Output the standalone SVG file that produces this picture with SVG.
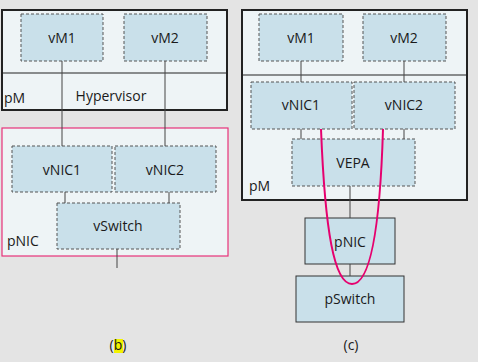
<svg xmlns="http://www.w3.org/2000/svg" width="478" height="362" viewBox="0 0 478 362">
<style>
text{font-family:"Open Sans","Liberation Sans",sans-serif;font-size:14px;fill:#1a1a1a}
.c{text-anchor:middle}
.host{fill:#eef4f6;stroke:#222;stroke-width:2}
.v{fill:#c9e0ea;stroke:#555;stroke-width:1;stroke-dasharray:3 2}
.p{fill:#c9e0ea;stroke:#333;stroke-width:1}
.ln{stroke:#444;stroke-width:1;fill:none}
</style>
<rect width="478" height="362" fill="#e4e4e4"/>
<g id="pM-b">
<rect class="host" x="2" y="10" width="225" height="100"/>
<line x1="2" y1="73" x2="227" y2="73" stroke="#222" stroke-width="1"/>
<text x="4" y="103">pM</text>
<text class="c" x="111" y="101">Hypervisor</text>
</g>
<g id="pNIC-b">
<rect x="2" y="128" width="226" height="128" fill="#eef4f6" stroke="#e8317a" stroke-width="1.2"/>
<text x="7" y="246">pNIC</text>
</g>
<g id="vM1-b"><rect class="v" x="21" y="14" width="82" height="47"/><text class="c" x="62" y="43">vM1</text></g>
<g id="vM2-b"><rect class="v" x="124" y="14" width="83" height="47"/><text class="c" x="165" y="43">vM2</text></g>
<g id="vNIC1-b"><rect class="v" x="12" y="146" width="100" height="46"/><text class="c" x="62" y="175">vNIC1</text></g>
<g id="vNIC2-b"><rect class="v" x="115" y="146" width="101" height="46"/><text class="c" x="165" y="175">vNIC2</text></g>
<g id="vSwitch-b"><rect class="v" x="57" y="203" width="123" height="46"/><text class="c" x="118" y="231">vSwitch</text></g>

<g id="pM-c">
<rect class="host" x="242" y="10" width="225" height="190"/>
<line x1="242" y1="75" x2="467" y2="75" stroke="#222" stroke-width="1"/>
<text x="249" y="191">pM</text>
</g>
<g id="vM1-c"><rect class="v" x="259" y="14" width="84" height="47"/><text class="c" x="301" y="43">vM1</text></g>
<g id="vM2-c"><rect class="v" x="363" y="14" width="83" height="47"/><text class="c" x="404" y="43">vM2</text></g>
<g id="vNIC1-c"><rect class="v" x="251" y="82" width="101" height="47"/><text class="c" x="301" y="110">vNIC1</text></g>
<g id="vNIC2-c"><rect class="v" x="354" y="82" width="101" height="47"/><text class="c" x="404" y="110">vNIC2</text></g>
<g id="VEPA-c"><rect class="v" x="292" y="139" width="123" height="47"/><text class="c" x="353" y="168">VEPA</text></g>
<g id="pNIC-c"><rect class="p" x="305" y="218" width="90" height="46"/><text class="c" x="350" y="247">pNIC</text></g>
<g id="pSwitch-c"><rect class="p" x="296" y="276" width="108" height="46"/><text class="c" x="350" y="304">pSwitch</text></g>

<g id="connectors">
<line class="ln" x1="62" y1="61" x2="62" y2="146"/>
<line class="ln" x1="165" y1="61" x2="165" y2="146"/>
<line class="ln" x1="65" y1="192" x2="65" y2="203"/>
<line class="ln" x1="169" y1="192" x2="169" y2="203"/>
<line class="ln" x1="117" y1="249" x2="117" y2="268"/>
<line class="ln" x1="301" y1="61" x2="301" y2="82"/>
<line class="ln" x1="404" y1="61" x2="404" y2="82"/>
<line class="ln" x1="301" y1="129" x2="301" y2="139"/>
<line class="ln" x1="404" y1="129" x2="404" y2="139"/>
<line class="ln" x1="350" y1="186" x2="350" y2="218"/>
<line class="ln" x1="350" y1="264" x2="350" y2="276"/>
<path d="M321,129 C325,230 334,284 352,284 C370,284 380,230 383,129" fill="none" stroke="#e6006e" stroke-width="2"/>
</g>

<rect x="114" y="339" width="9" height="14" fill="#f2f200"/>
<text class="c" x="118" y="350">(b)</text>
<text class="c" x="351" y="350">(c)</text>
</svg>
